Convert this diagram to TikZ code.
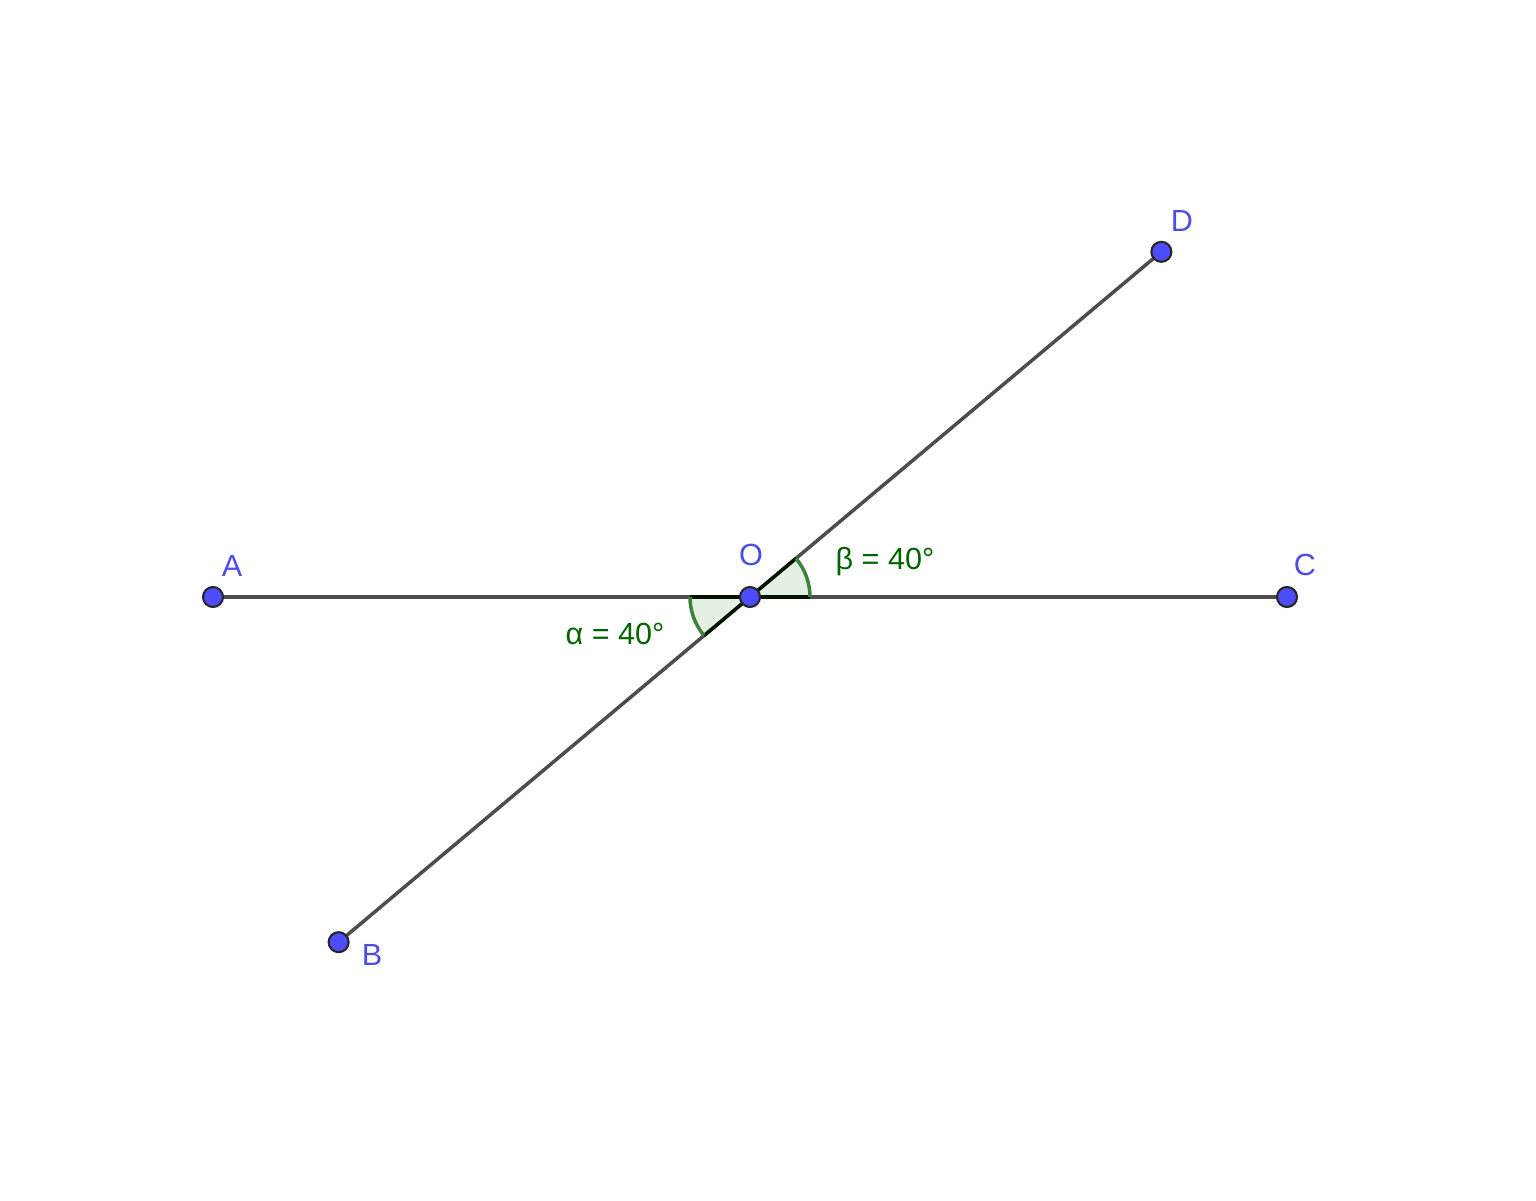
\documentclass[tikz,border=0pt]{standalone}
\usepackage{fontspec}
\setmainfont{Liberation Sans}
\usetikzlibrary{calc}
\definecolor{ptblue}{RGB}{77,77,255}
\definecolor{ptlabel}{RGB}{77,77,230}
\definecolor{segcol}{RGB}{77,77,77}
\definecolor{anggreen}{RGB}{0,100,0}
\definecolor{angarc}{RGB}{60,130,60}
\definecolor{angfill}{RGB}{228,240,228}
\tikzset{
  pt/.style={circle, fill=ptblue, draw=black!85, line width=0.6pt, inner sep=0pt, minimum size=0.2cm},
  ptlab/.style={text=ptlabel, font=\fontsize{8.7}{10}\selectfont, inner sep=0pt},
  anglab/.style={text=anggreen, font=\fontsize{8.7}{10}\selectfont, inner sep=0pt},
  seg/.style={draw=segcol, line width=1pt},
}
\begin{document}
\begin{tikzpicture}
\useasboundingbox (0,0) rectangle (15.36,12);
\coordinate (O) at (7.50,6.03);
\coordinate (A) at (2.13,6.03);
\coordinate (C) at (12.87,6.03);
\coordinate (D) at ($(O)+(40:5.37)$);
\coordinate (B) at ($(O)+(220:5.37)$);
% segments
\draw[seg] (A) -- (C);
\draw[seg] (B) -- (D);
% angle sectors
\fill[angfill] (O) -- ++(0:0.6) arc[start angle=0,end angle=40,radius=0.6] -- cycle;
\fill[angfill] (O) -- ++(180:0.6) arc[start angle=180,end angle=220,radius=0.6] -- cycle;
\draw[draw=black!80!anggreen, line width=1pt] ($(O)+(40:0.6)$) -- (O) -- ($(O)+(0:0.6)$);
\draw[draw=black!80!anggreen, line width=1pt] ($(O)+(180:0.6)$) -- (O) -- ($(O)+(220:0.6)$);
\draw[angarc, line width=1pt] ($(O)+(0:0.6)$) arc[start angle=0,end angle=40,radius=0.6];
\draw[angarc, line width=1pt] ($(O)+(180:0.6)$) arc[start angle=180,end angle=220,radius=0.6];
% points
\node[pt] (pA) at (A) {};
\node[pt] (pC) at (C) {};
\node[pt] (pD) at (D) {};
\node[pt] (pB) at (B) {};
\node[pt] (pO) at (O) {};
% labels
\node[ptlab] (lA) at (2.32,6.34) {A};
\node[ptlab] (lO) at (7.51,6.45) {O};
\node[ptlab] (lC) at (13.05,6.35) {C};
\node[ptlab] (lD) at (11.82,9.79) {D};
\node[ptlab] (lB) at (3.72,2.45) {B};
\node[anglab] (lbeta) at (8.85,6.38) {β = 40°};
\node[anglab] (lalpha) at (6.15,5.66) {α = 40°};
\end{tikzpicture}
\end{document}
